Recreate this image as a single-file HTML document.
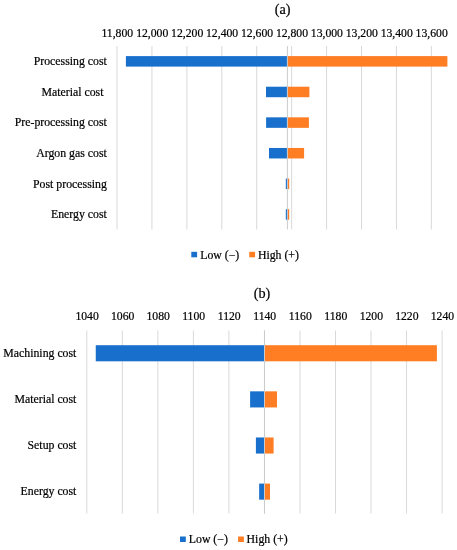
<!DOCTYPE html>
<html lang="en"><head><meta charset="utf-8"><title>Sensitivity analysis</title>
<style>html,body{margin:0;padding:0;background:#fff;}body{width:457px;height:550px;overflow:hidden;}svg{display:block;}text{font-family:"Liberation Serif","Times New Roman",serif;fill:#000;stroke:#000;stroke-width:0.2px;}</style></head><body>
<svg width="457" height="550" viewBox="0 0 457 550">
<rect width="457" height="550" fill="#fff"/>
<text x="282.6" y="13.8" font-size="14.2" text-anchor="middle">(a)</text>
<line x1="117.00" y1="46.0" x2="117.00" y2="229.5" stroke="#d9d9d9" stroke-width="1"/>
<text x="117.30" y="36.7" font-size="11.7" text-anchor="middle">11,800</text>
<line x1="151.93" y1="46.0" x2="151.93" y2="229.5" stroke="#d9d9d9" stroke-width="1"/>
<text x="152.23" y="36.7" font-size="11.7" text-anchor="middle">12,000</text>
<line x1="186.86" y1="46.0" x2="186.86" y2="229.5" stroke="#d9d9d9" stroke-width="1"/>
<text x="187.16" y="36.7" font-size="11.7" text-anchor="middle">12,200</text>
<line x1="221.79" y1="46.0" x2="221.79" y2="229.5" stroke="#d9d9d9" stroke-width="1"/>
<text x="222.09" y="36.7" font-size="11.7" text-anchor="middle">12,400</text>
<line x1="256.72" y1="46.0" x2="256.72" y2="229.5" stroke="#d9d9d9" stroke-width="1"/>
<text x="257.02" y="36.7" font-size="11.7" text-anchor="middle">12,600</text>
<line x1="291.65" y1="46.0" x2="291.65" y2="229.5" stroke="#d9d9d9" stroke-width="1"/>
<text x="291.95" y="36.7" font-size="11.7" text-anchor="middle">12,800</text>
<line x1="326.58" y1="46.0" x2="326.58" y2="229.5" stroke="#d9d9d9" stroke-width="1"/>
<text x="326.88" y="36.7" font-size="11.7" text-anchor="middle">13,000</text>
<line x1="361.51" y1="46.0" x2="361.51" y2="229.5" stroke="#d9d9d9" stroke-width="1"/>
<text x="361.81" y="36.7" font-size="11.7" text-anchor="middle">13,200</text>
<line x1="396.44" y1="46.0" x2="396.44" y2="229.5" stroke="#d9d9d9" stroke-width="1"/>
<text x="396.74" y="36.7" font-size="11.7" text-anchor="middle">13,400</text>
<line x1="431.37" y1="46.0" x2="431.37" y2="229.5" stroke="#d9d9d9" stroke-width="1"/>
<text x="431.67" y="36.7" font-size="11.7" text-anchor="middle">13,600</text>
<rect x="125.9" y="56.10" width="161.50" height="10.5" fill="#1870cc"/>
<rect x="287.4" y="56.10" width="160.00" height="10.5" fill="#ff7d23"/>
<text x="106.8" y="65.05" font-size="11.8" text-anchor="end">Processing cost</text>
<rect x="266.0" y="86.72" width="21.40" height="10.5" fill="#1870cc"/>
<rect x="287.4" y="86.72" width="22.00" height="10.5" fill="#ff7d23"/>
<text x="103.5" y="95.67" font-size="11.8" text-anchor="end">Material cost</text>
<rect x="266.1" y="117.34" width="21.30" height="10.5" fill="#1870cc"/>
<rect x="287.4" y="117.34" width="21.50" height="10.5" fill="#ff7d23"/>
<text x="106.8" y="126.29" font-size="11.8" text-anchor="end">Pre-processing cost</text>
<rect x="269.0" y="147.96" width="18.40" height="10.5" fill="#1870cc"/>
<rect x="287.4" y="147.96" width="16.70" height="10.5" fill="#ff7d23"/>
<text x="106.8" y="156.91" font-size="11.8" text-anchor="end">Argon gas cost</text>
<rect x="285.8" y="178.58" width="1.60" height="10.5" fill="#1870cc"/>
<rect x="287.4" y="178.58" width="1.80" height="10.5" fill="#ff7d23"/>
<text x="106.8" y="187.53" font-size="11.8" text-anchor="end">Post processing</text>
<rect x="285.8" y="209.20" width="1.60" height="10.5" fill="#1870cc"/>
<rect x="287.4" y="209.20" width="1.80" height="10.5" fill="#ff7d23"/>
<text x="106.8" y="218.15" font-size="11.8" text-anchor="end">Energy cost</text>
<line x1="287.4" y1="46.0" x2="287.4" y2="229.5" stroke="#cbcbcb" stroke-width="1"/>
<rect x="191.3" y="251.8" width="5.8" height="5.5" fill="#1870cc"/>
<text x="200.2" y="258.7" font-size="11.8">Low (−)</text>
<rect x="249.3" y="251.8" width="5.8" height="5.5" fill="#ff7d23"/>
<text x="257.9" y="258.7" font-size="11.8">High (+)</text>
<text x="262.0" y="297.7" font-size="14.2" text-anchor="middle">(b)</text>
<line x1="86.80" y1="330.5" x2="86.80" y2="513.5" stroke="#d9d9d9" stroke-width="1"/>
<text x="87.10" y="320.3" font-size="11.7" text-anchor="middle">1040</text>
<line x1="122.33" y1="330.5" x2="122.33" y2="513.5" stroke="#d9d9d9" stroke-width="1"/>
<text x="122.63" y="320.3" font-size="11.7" text-anchor="middle">1060</text>
<line x1="157.86" y1="330.5" x2="157.86" y2="513.5" stroke="#d9d9d9" stroke-width="1"/>
<text x="158.16" y="320.3" font-size="11.7" text-anchor="middle">1080</text>
<line x1="193.39" y1="330.5" x2="193.39" y2="513.5" stroke="#d9d9d9" stroke-width="1"/>
<text x="193.69" y="320.3" font-size="11.7" text-anchor="middle">1100</text>
<line x1="228.92" y1="330.5" x2="228.92" y2="513.5" stroke="#d9d9d9" stroke-width="1"/>
<text x="229.22" y="320.3" font-size="11.7" text-anchor="middle">1120</text>
<line x1="264.45" y1="330.5" x2="264.45" y2="513.5" stroke="#d9d9d9" stroke-width="1"/>
<text x="264.75" y="320.3" font-size="11.7" text-anchor="middle">1140</text>
<line x1="299.98" y1="330.5" x2="299.98" y2="513.5" stroke="#d9d9d9" stroke-width="1"/>
<text x="300.28" y="320.3" font-size="11.7" text-anchor="middle">1160</text>
<line x1="335.51" y1="330.5" x2="335.51" y2="513.5" stroke="#d9d9d9" stroke-width="1"/>
<text x="335.81" y="320.3" font-size="11.7" text-anchor="middle">1180</text>
<line x1="371.04" y1="330.5" x2="371.04" y2="513.5" stroke="#d9d9d9" stroke-width="1"/>
<text x="371.34" y="320.3" font-size="11.7" text-anchor="middle">1200</text>
<line x1="406.57" y1="330.5" x2="406.57" y2="513.5" stroke="#d9d9d9" stroke-width="1"/>
<text x="406.87" y="320.3" font-size="11.7" text-anchor="middle">1220</text>
<line x1="442.10" y1="330.5" x2="442.10" y2="513.5" stroke="#d9d9d9" stroke-width="1"/>
<text x="442.40" y="320.3" font-size="11.7" text-anchor="middle">1240</text>
<rect x="95.75" y="345.21" width="168.75" height="16.1" fill="#1870cc"/>
<rect x="264.5" y="345.21" width="172.40" height="16.1" fill="#ff7d23"/>
<text x="76.4" y="356.96" font-size="11.8" text-anchor="end">Machining cost</text>
<rect x="250.1" y="391.34" width="14.40" height="16.1" fill="#1870cc"/>
<rect x="264.5" y="391.34" width="12.50" height="16.1" fill="#ff7d23"/>
<text x="76.4" y="403.09" font-size="11.8" text-anchor="end">Material cost</text>
<rect x="255.9" y="437.46" width="8.60" height="16.1" fill="#1870cc"/>
<rect x="264.5" y="437.46" width="9.10" height="16.1" fill="#ff7d23"/>
<text x="76.4" y="449.21" font-size="11.8" text-anchor="end">Setup cost</text>
<rect x="259.15" y="483.59" width="5.35" height="16.1" fill="#1870cc"/>
<rect x="264.5" y="483.59" width="5.50" height="16.1" fill="#ff7d23"/>
<text x="76.4" y="495.34" font-size="11.8" text-anchor="end">Energy cost</text>
<line x1="264.5" y1="330.5" x2="264.5" y2="513.5" stroke="#cbcbcb" stroke-width="1"/>
<rect x="180.0" y="536.5" width="5.8" height="5.5" fill="#1870cc"/>
<text x="188.8" y="543.4" font-size="11.8">Low (−)</text>
<rect x="238.1" y="536.5" width="5.8" height="5.5" fill="#ff7d23"/>
<text x="246.6" y="543.4" font-size="11.8">High (+)</text>
</svg></body></html>
